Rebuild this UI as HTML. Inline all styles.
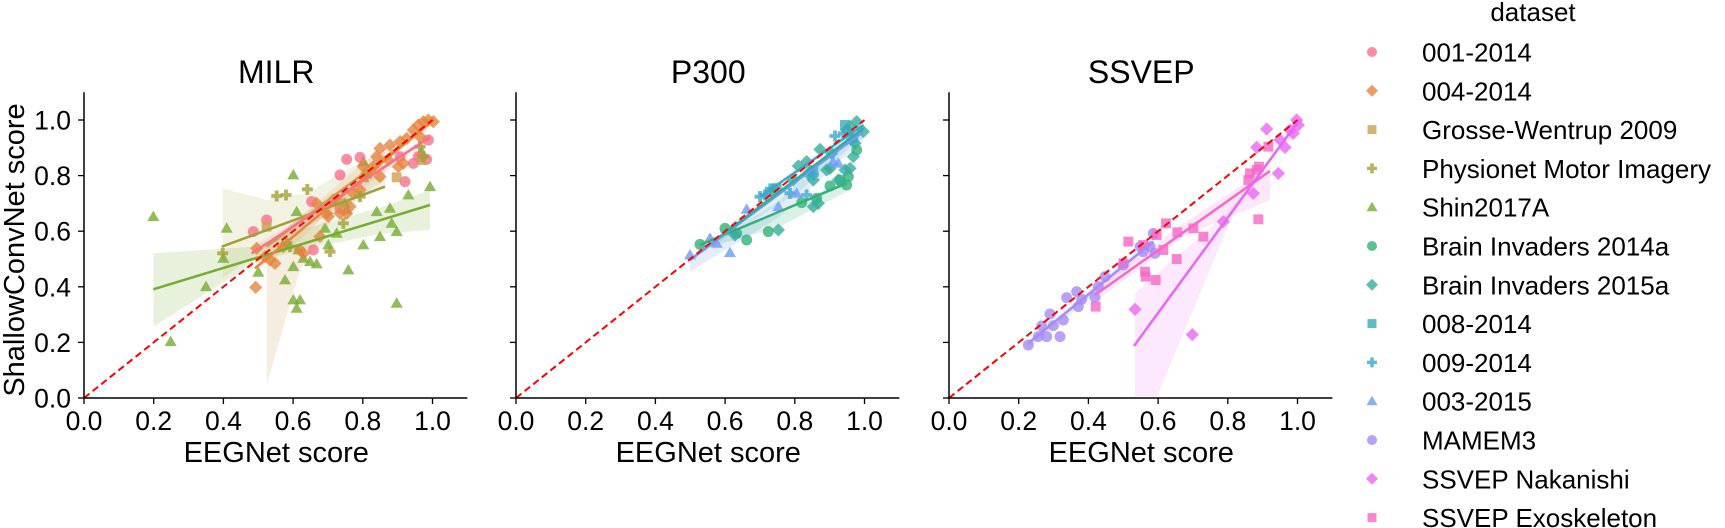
<!DOCTYPE html>
<html><head><meta charset="utf-8">
<style>
html,body{margin:0;padding:0;background:#fff;}
svg{display:block;font-family:"Liberation Sans",Arial,sans-serif;}
</style></head>
<body>
<svg id="s" width="1725" height="528" viewBox="0 0 1725 528" xmlns="http://www.w3.org/2000/svg">
<g id="bands"></g>
<g id="pts"></g>
<g id="lines"></g>
<g id="axes"></g>
</svg>
<script>
const NS="http://www.w3.org/2000/svg";
function el(par,tag,attrs,text){const e=document.createElementNS(NS,tag);for(const k in attrs)e.setAttribute(k,attrs[k]);if(text!==undefined)e.textContent=text;document.getElementById(par).appendChild(e);return e;}
const C={a:'#f77189',b:'#e5843e',c:'#c9a053',d:'#a1a036',e:'#77ab31',f:'#33b07a',g:'#35ad9c',h:'#37abb4',i:'#3aa7cc',j:'#6e9bf4',k:'#a48cf4',l:'#e866f4',m:'#f667c6'};
const X0=[84,516,949], W=348.5, Y0=398, H=278;
const ZO=[[0,60],[480,60],[910,60]];
function marker(par,shape,x,y,col,r,op){
  r=r||5.5; op=op===undefined?0.8:op;
  if(shape=='o') el(par,'circle',{cx:x,cy:y,r:r,fill:col,'fill-opacity':op});
  else if(shape=='D') el(par,'rect',{x:x-r*0.85,y:y-r*0.85,width:r*1.7,height:r*1.7,fill:col,'fill-opacity':op,transform:`rotate(45 ${x} ${y})`});
  else if(shape=='s') el(par,'rect',{x:x-r*0.9,y:y-r*0.9,width:r*1.8,height:r*1.8,fill:col,'fill-opacity':op});
  else if(shape=='^') el(par,'polygon',{points:`${x},${y-r*1.1} ${x-r*1.1},${y+r*0.8} ${x+r*1.1},${y+r*0.8}`,fill:col,'fill-opacity':op});
  else if(shape=='P'){const a=r*0.35;el(par,'path',{d:`M${x-a},${y-r}h${2*a}v${r-a}h${r-a}v${2*a}h${-(r-a)}v${r-a}h${-2*a}v${-(r-a)}h${-(r-a)}v${-2*a}h${r-a}z`,fill:col,'fill-opacity':op});}
}
function Z(p,zx,zy){return [ZO[p][0]+zx/3, ZO[p][1]+zy/3];}
function pts(p,shape,col,arr){arr.forEach(q=>{const [x,y]=Z(p,q[0],q[1]);marker('pts',shape,x,y,col);});}
function line(p,x1,y1,x2,y2,col){const a=Z(p,x1,y1),b=Z(p,x2,y2);el('lines','line',{x1:a[0],y1:a[1],x2:b[0],y2:b[1],stroke:col,'stroke-width':2.5});}
function band(p,arr,col,op){el('bands','polygon',{points:arr.map(q=>Z(p,q[0],q[1]).join(',')).join(' '),fill:col,'fill-opacity':op||0.18});}

// Panel 1
band(0,[[460,580],[760,560],[900,510],[1150,440],[1290,390],[1290,510],[1150,520],[900,570],[760,610],[460,800]],C.e,0.17);
band(0,[[668,385],[800,420],[920,400],[1040,330],[1155,270],[1155,380],[1040,440],[920,500],[800,560],[668,655]],C.d,0.14);
band(0,[[800,560],[900,470],[1000,400],[1150,300],[1150,360],[1000,470],[900,630],[800,975]],C.c,0.18);
band(0,[[765,580],[900,470],[1100,300],[1300,170],[1300,200],[1100,340],[900,540],[765,630]],C.b,0.15);
band(0,[[755,560],[950,450],[1290,220],[1290,245],[950,480],[755,585]],C.a,0.15);
pts(0,'^',C.e,[[460,470],[512,845],[680,505],[670,595],[618,680],[775,637],[880,345],[890,455],[855,660],[880,720],[900,720],[890,745],[880,620],[895,570],[910,595],[930,605],[950,612],[975,505],[985,555],[1040,450],[1035,430],[1045,630],[1090,555],[1090,305],[1130,455],[1140,530],[1170,445],[1175,490],[1190,515],[1190,730],[1225,405],[1265,275],[1290,380],[1010,520]]);
pts(0,'o',C.a,[[1040,298],[1080,292],[1020,345],[1215,365],[935,425],[800,480],[760,515],[940,570],[1020,445],[1240,310],[1280,298],[1255,290],[1285,240],[1200,290]]);
pts(0,'D',C.b,[[767,682],[770,565],[825,610],[810,600],[795,590],[850,560],[900,570],[910,580],[960,530],[985,470],[950,430],[980,460],[1000,420],[1020,460],[1060,400],[1080,390],[1090,320],[1100,340],[1130,290],[1140,265],[1170,255],[1200,245],[1210,310],[1220,235],[1240,210],[1255,195],[1270,185],[1285,180],[1300,185],[1260,230],[1195,320],[1165,300],[1140,350],[1120,320],[1050,440],[1040,460]]);
pts(0,'s',C.c,[[1190,352],[800,500],[1265,300],[1020,430]]);
pts(0,'P',C.d,[[830,408],[858,405],[922,388],[668,580],[990,575],[1080,410],[1030,490],[860,550],[870,560],[1270,290],[1260,260],[1100,350]]);
line(0,460,688,1290,435,C.e);
line(0,665,560,1155,380,C.d);
line(0,800,560,1290,190,C.c);
line(0,765,625,1300,180,C.b);
line(0,755,580,1290,232,C.a);

// Panel 2
band(1,[[630,590],[900,420],[1150,190],[1150,240],[900,470],[630,635]],C.j,0.18);
band(1,[[660,545],[900,460],[1100,355],[1100,395],[900,500],[660,570]],C.f,0.18);
band(1,[[720,510],[950,360],[1150,190],[1150,230],[950,400],[720,545]],C.g,0.15);
pts(1,'o',C.f,[[660,553],[735,505],[800,540],[865,515],[965,428],[1050,378],[1100,375],[1105,350],[1080,360],[1130,270],[1010,415],[770,520]]);
pts(1,'D',C.g,[[895,510],[1000,440],[1015,430],[1020,268],[955,318],[980,305],[1050,325],[1095,330],[1110,325],[1075,360],[1110,200],[1130,185],[1150,215],[1120,290],[1100,210],[1055,280],[765,525],[1000,360],[1040,330],[1125,250],[985,340],[940,360]]);
pts(1,'s',C.h,[[880,385],[870,395],[890,385],[1095,195],[1120,235],[1000,330]]);
pts(1,'P',C.i,[[840,410],[855,405],[1065,228],[980,405],[1000,345],[1090,220],[930,400],[1115,240]]);
pts(1,'^',C.j,[[630,585],[690,535],[710,550],[750,578],[800,448],[895,440],[950,400],[1060,305],[1075,310]]);
line(1,660,555,1100,370,C.f);
line(1,630,600,1150,215,C.j);
line(1,720,530,1150,205,C.g);
line(1,840,410,1150,195,C.i);

// Panel 3
band(2,[[675,700],[940,470],[1100,280],[1165,185],[1165,215],[1000,390],[740,1010],[675,1010]],C.l,0.14);
band(2,[[555,690],[820,490],[1080,320],[1080,420],[820,530],[555,725]],C.m,0.15);
band(2,[[355,840],[730,535],[730,560],[355,865]],C.k,0.18);
pts(2,'o',C.k,[[355,855],[385,830],[410,830],[450,830],[395,798],[430,797],[460,780],[420,762],[470,713],[500,695],[505,740],[515,718],[555,712],[565,680],[585,650],[640,615],[700,575],[730,520],[735,580],[720,560],[690,560]]);
pts(2,'D',C.l,[[675,748],[847,824],[940,485],[1030,400],[1040,262],[1070,207],[1105,340],[1125,262],[1110,240],[1140,210],[1160,180],[1165,195],[1150,220]]);
pts(2,'s',C.m,[[557,740],[655,545],[705,635],[707,650],[737,660],[760,570],[740,525],[768,490],[802,517],[800,597],[850,505],[880,530],[1020,340],[1040,330],[1047,320],[1075,260],[1045,478],[1015,360],[700,555],[640,610]]);
line(2,355,850,730,545,C.k);
line(2,555,705,1080,333,C.m);
line(2,672,858,1160,190,C.l);

// Axes
const titles=['MILR','P300','SSVEP'];
for(let p=0;p<3;p++){
  const x0=X0[p];
  el('axes','line',{x1:x0,y1:Y0,x2:x0+W,y2:Y0-H,stroke:'#ff0000','stroke-width':2,'stroke-dasharray':'7,4'});
  el('axes','line',{x1:x0,y1:Y0-1.1*H,x2:x0,y2:Y0+0.7,stroke:'#000','stroke-width':1.5});
  el('axes','line',{x1:x0-0.7,y1:Y0,x2:x0+1.1*W,y2:Y0,stroke:'#000','stroke-width':1.5});
  for(let i=0;i<=5;i++){
    const v=i*0.2, tx=x0+v*W, ty=Y0-v*H;
    el('axes','line',{x1:tx,y1:Y0,x2:tx,y2:Y0+6,stroke:'#000','stroke-width':1.3});
    el('axes','line',{x1:x0-6,y1:ty,x2:x0,y2:ty,stroke:'#000','stroke-width':1.3});
    el('axes','text',{x:tx,y:Y0+32,'font-size':26.5,'text-anchor':'middle'},v.toFixed(1));
    if(p==0) el('axes','text',{x:x0-13,y:ty+9.5,'font-size':26.5,'text-anchor':'end'},v.toFixed(1));
  }
  el('axes','text',{x:x0+W/2+18,y:Y0+64,'font-size':29,'text-anchor':'middle'},'EEGNet score');
  el('axes','text',{x:x0+W/2+18,y:83,'font-size':32,'text-anchor':'middle'},titles[p]);
}
el('axes','text',{x:0,y:0,'font-size':29,'text-anchor':'middle',transform:'translate(24,250) rotate(-90)'},'ShallowConvNet score');

// Legend
el('axes','text',{x:1533,y:21,'font-size':26,'text-anchor':'middle'},'dataset');
const L=[['001-2014','o',C.a],['004-2014','D',C.b],['Grosse-Wentrup 2009','s',C.c],['Physionet Motor Imagery','P',C.d],['Shin2017A','^',C.e],['Brain Invaders 2014a','o',C.f],['Brain Invaders 2015a','D',C.g],['008-2014','s',C.h],['009-2014','P',C.i],['003-2015','^',C.j],['MAMEM3','o',C.k],['SSVEP Nakanishi','D',C.l],['SSVEP Exoskeleton','s',C.m]];
L.forEach((r,i)=>{const y=52+38.8*i;marker('axes',r[1],1372,y,r[2],5,0.8);el('axes','text',{x:1422,y:y+9.5,'font-size':26},r[0]);});
</script>
</body></html>
